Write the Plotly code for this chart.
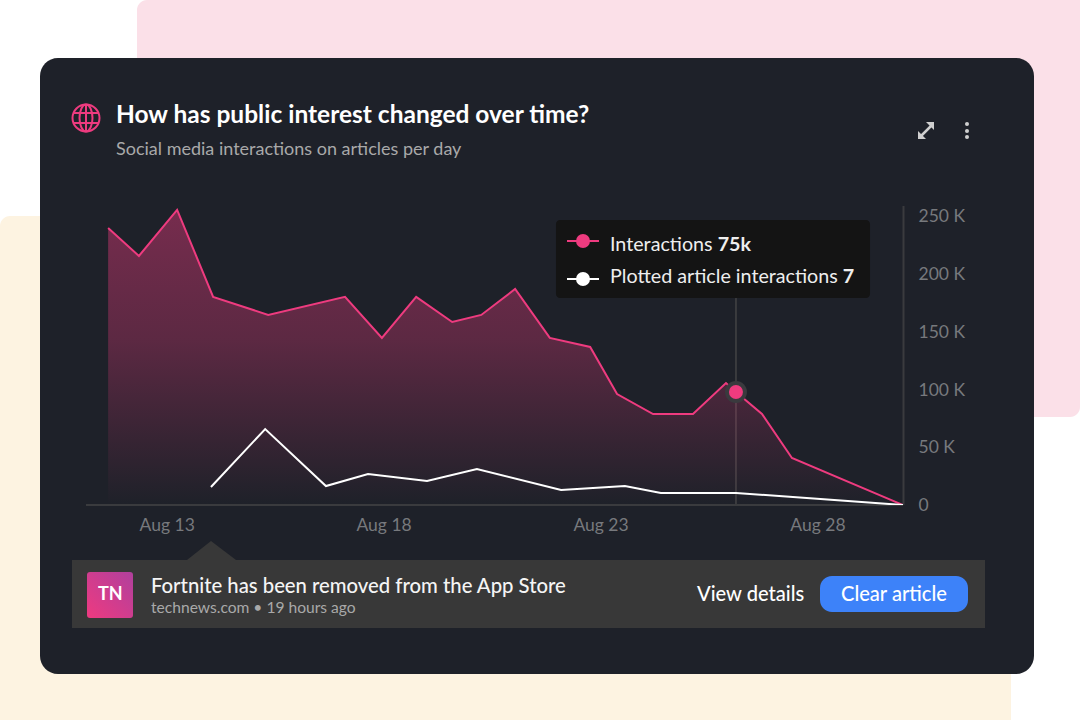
import base64
import plotly.graph_objects as go

W, H = 1080, 720
PINK = "#ee3b7f"
FONT = "Lato"
RULE = "#3a3b3e"

# Day of August (fractional) and values in thousands
interaction_days = [11.64, 12.35, 13.23, 14.06, 15.33, 17.10, 17.95, 18.74, 19.57, 20.24, 21.02, 21.82, 22.75, 23.37, 24.20, 25.12, 25.88, 26.11, 26.71, 27.40, 29.96]
interaction_values = [239.6, 215.4, 255.2, 180.0, 164.4, 180.0, 144.5, 180.0, 158.3, 164.4, 186.8, 144.5, 136.7, 96.0, 78.7, 78.7, 105.5, 97.7, 78.7, 40.7, 0.0]
article_days = [14.01, 15.26, 16.66, 17.63, 18.99, 20.14, 22.08, 23.55, 24.38, 26.11, 29.96]
article_values = [15.6, 65.7, 16.4, 26.8, 20.8, 31.1, 13.0, 16.4, 10.4, 10.4, 0.0]
selected_day = [26.11]
selected_value = [97.7]
x_tick_days = [13, 18, 23, 28]
x_tick_labels = ["Aug 13", "Aug 18", "Aug 23", "Aug 28"]
y_tick_values = [0, 50, 100, 150, 200, 250]
y_tick_labels = ["0", "50 K", "100 K", "150 K", "200 K", "250 K"]

shapes, annotations = [], []


def fx(p):
    return p / W


def fy(p):
    return 1 - p / H


def path(d, fill=None, line=None, lw=0, layer="below"):
    shapes.append(dict(type="path", xref="paper", yref="paper", path=d, fillcolor=fill or "rgba(0,0,0,0)",
                       line=dict(color=line or "rgba(0,0,0,0)", width=lw), layer=layer))


def rrect(x0, y0, x1, y1, r, fill, layer="below", corners=(1, 1, 1, 1)):
    tl, tr, br, bl = [r * c for c in corners]
    k = 0.55
    P = lambda x, y: f"{fx(x):.5f},{fy(y):.5f}"
    d = (f"M{P(x0 + tl, y0)} L{P(x1 - tr, y0)} C{P(x1 - tr + k * tr, y0)} {P(x1, y0 + tr - k * tr)} {P(x1, y0 + tr)} "
         f"L{P(x1, y1 - br)} C{P(x1, y1 - br + k * br)} {P(x1 - br + k * br, y1)} {P(x1 - br, y1)} "
         f"L{P(x0 + bl, y1)} C{P(x0 + bl - k * bl, y1)} {P(x0, y1 - bl + k * bl)} {P(x0, y1 - bl)} "
         f"L{P(x0, y0 + tl)} C{P(x0, y0 + tl - k * tl)} {P(x0 + tl - k * tl, y0)} {P(x0 + tl, y0)} Z")
    path(d, fill=fill, layer=layer)


def circle(cx, cy, rx, ry=None, fill=None, line=None, lw=0, layer="below"):
    ry = rx if ry is None else ry
    shapes.append(dict(type="circle", xref="paper", yref="paper", x0=fx(cx - rx), x1=fx(cx + rx), y0=fy(cy + ry), y1=fy(cy - ry),
                       fillcolor=fill or "rgba(0,0,0,0)", line=dict(color=line or "rgba(0,0,0,0)", width=lw), layer=layer))


def seg(x0, y0, x1, y1, color, lw, layer="below"):
    shapes.append(dict(type="line", xref="paper", yref="paper", x0=fx(x0), x1=fx(x1), y0=fy(y0), y1=fy(y1),
                       line=dict(color=color, width=lw), layer=layer))


def text(x, y, s, size, color, anchor="left", weight=None):
    font = dict(family=FONT, size=size, color=color)
    if weight:
        font["weight"] = weight
    annotations.append(dict(xref="paper", yref="paper", x=fx(x), y=fy(y), text=s, showarrow=False,
                            xanchor=anchor, yanchor="middle", font=font, borderpad=0, borderwidth=0))


# Background panels
rrect(137, 0, 1080, 417, 10, "#fbe0e8", corners=(1, 0, 1, 1))
rrect(0, 216, 1011, 720, 10, "#fdf3e1", corners=(1, 1, 0, 0))
rrect(40, 58, 1034, 674, 18, "#1e2129")

# Globe icon
circle(86, 118, 13.5, line=PINK, lw=2)
circle(86, 118, 6.5, 13.5, line=PINK, lw=2)
seg(73, 113, 99, 113, PINK, 2)
seg(73, 123, 99, 123, PINK, 2)
seg(86, 105, 86, 131, PINK, 2)

# Expand and menu icons
ICON = "#cfcfcf"
seg(921, 136, 932, 125, ICON, 2.5)
P2 = lambda x, y: f"{fx(x):.5f},{fy(y):.5f}"
path(f"M{P2(918, 139)} L{P2(918, 131)} L{P2(926, 139)} Z", fill=ICON)
path(f"M{P2(934, 122)} L{P2(934, 130)} L{P2(926, 122)} Z", fill=ICON)
for cy in (124, 131, 137):
    circle(967, cy, 2, fill=ICON)

# Axis rules and selected-day guide
seg(86, 505, 903, 505, RULE, 2)
seg(903.5, 206, 903.5, 505, RULE, 2)
shapes.append(dict(type="line", xref="x", yref="y", x0=selected_day[0], x1=selected_day[0], y0=0, y1=179,
                   line=dict(color=RULE, width=2), layer="below"))

# Tooltip
rrect(556, 220, 870, 298, 4, "#141414", layer="above")
seg(567, 241, 599, 241, PINK, 2, "above")
circle(583, 241, 7, fill=PINK, layer="above")
seg(567, 279, 599, 279, "#ffffff", 2, "above")
circle(583, 279, 7, fill="#ffffff", layer="above")
text(610, 243, 'Interactions <b>75k</b>', 19.7, "#eeeeee")
text(610, 275, 'Plotted article interactions <b>7</b>', 19.7, "#eeeeee")

# Article bar
rrect(72, 560, 985, 628, 0.01, "#383838")
path(f"M{P2(187, 560)} L{P2(211, 541)} L{P2(236, 560)} Z", fill="#383838")
rrect(820, 576, 968, 612, 12, "#3d82f9")
text(151, 585, "Fortnite has been removed from the App Store", 20.3, "#f5f5f5", weight=500)
text(151, 607, "technews.com • 19 hours ago", 15.6, "#a9a9a9")
text(697, 593, "View details", 20.1, "#ffffff", weight=500)
text(894, 593, "Clear article", 20.1, "#ffffff", anchor="center", weight=500)
text(110, 593, "<b>TN</b>", 18, "#ffffff", anchor="center")

# Title
text(116, 113, "<b>How has public interest changed over time?</b>", 24.5, "#ffffff")
text(116, 148, "Social media interactions on articles per day", 18, "#a9a9a9")

logo_svg = ('<svg xmlns="http://www.w3.org/2000/svg" width="46" height="46"><defs><linearGradient id="g" x1="0" y1="1" x2="1" y2="0">'
            '<stop offset="0" stop-color="#ee3a80"/><stop offset="1" stop-color="#b0409d"/></linearGradient></defs>'
            '<rect width="46" height="46" rx="3" fill="url(#g)"/></svg>')
logo_uri = "data:image/svg+xml;base64," + base64.b64encode(logo_svg.encode()).decode()

fig = go.Figure()
fig.add_trace(go.Scatter(
    x=interaction_days, y=interaction_values, mode="lines", line=dict(color=PINK, width=2),
    fill="tozeroy", fillcolor="rgba(238,59,127,0.4)",
    fillgradient=dict(type="vertical", start=260, stop=0,
                      colorscale=[[0, "rgba(238,59,127,0.43)"], [0.45, "rgba(238,59,127,0.30)"], [1, "rgba(238,59,127,0.0)"]]),
    showlegend=False))
fig.add_trace(go.Scatter(x=article_days, y=article_values, mode="lines", line=dict(color="#ffffff", width=2), showlegend=False))
fig.add_trace(go.Scatter(x=selected_day, y=selected_value, mode="markers", marker=dict(size=22, color="#3a3a3e"), showlegend=False))
fig.add_trace(go.Scatter(x=selected_day, y=selected_value, mode="markers", marker=dict(size=14, color=PINK), showlegend=False))

fig.update_layout(
    width=W, height=H, autosize=False, margin=dict(l=0, r=0, t=0, b=0),
    paper_bgcolor="#ffffff", plot_bgcolor="rgba(0,0,0,0)", hovermode=False,
    shapes=shapes, annotations=annotations,
    images=[dict(source=logo_uri, xref="paper", yref="paper", x=fx(87), y=fy(572), sizex=46 / W, sizey=46 / H,
                 xanchor="left", yanchor="top", sizing="stretch", layer="above")],
    xaxis=dict(domain=[fx(86), fx(903)], range=[11.13, 29.96], tickmode="array", tickvals=x_tick_days, ticktext=x_tick_labels,
               automargin=False, showgrid=False, zeroline=False, showline=False, ticks="outside", ticklen=4,
               tickcolor="rgba(0,0,0,0)", tickfont=dict(family=FONT, size=17.5, color="#77797d")),
    yaxis=dict(domain=[fy(505), fy(206)], range=[0, 258.6], side="right", tickmode="array", tickvals=y_tick_values, ticktext=y_tick_labels,
               automargin=False, showgrid=False, zeroline=False, showline=False, ticks="outside", ticklen=11,
               tickcolor="rgba(0,0,0,0)", tickfont=dict(family=FONT, size=17.5, color="#77797d")),
)
fig.write_html("out.html", config=dict(displayModeBar=False),
               post_script="document.body.style.margin='0';document.body.style.overflow='hidden';")
